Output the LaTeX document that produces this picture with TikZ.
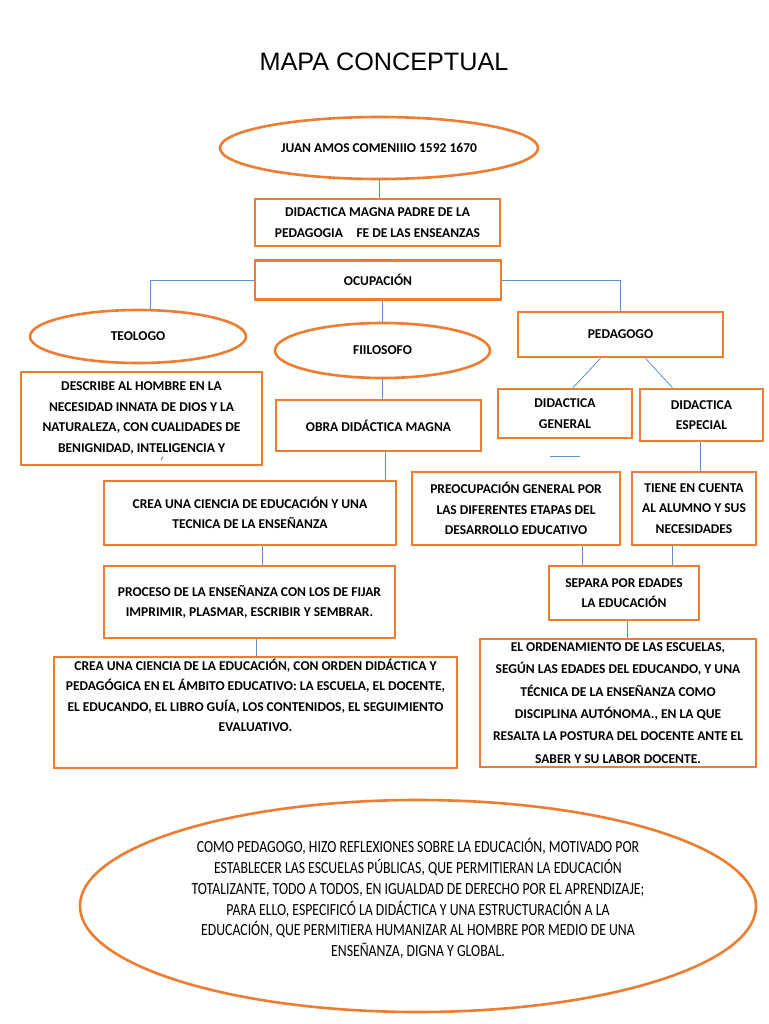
\documentclass[tikz,border=0pt]{standalone}
\usepackage{fontspec}
\usepackage{graphicx}
\usetikzlibrary{shapes.geometric}
\setmainfont{Carlito}
\newfontfamily\titlefont{Liberation Sans}
\definecolor{orng}{HTML}{ED7D31}
\definecolor{lblue}{HTML}{5B8FD0}
\newcommand{\bfnt}{\fontsize{13.5}{20.5}\selectfont\bfseries}
\begin{document}
\begin{tikzpicture}[x=1pt,y=-1pt,
  cbox/.style={draw=orng, line width=2.6pt, fill=white, inner sep=0pt, align=center, font=\bfnt},
  oval/.style={ellipse, draw=orng, line width=2.6pt, fill=white, inner sep=0pt, align=center, font=\bfnt},
  link/.style={draw=lblue, line width=0.8pt}]
\useasboundingbox[fill=white] (0,0) rectangle (768,1024);
\node[font=\titlefont\fontsize{25.2}{28}\selectfont] (title) at (384,62) {MAPA CONCEPTUAL};

\node[oval, minimum width=318pt, minimum height=62pt] (juan) at (379,148) {JUAN AMOS COMENIIIO 1592 1670};
\node[cbox, minimum width=245pt, minimum height=47pt] (dm) at (377.5,222.5) {DIDACTICA MAGNA PADRE DE LA\\PEDAGOGIA\quad FE DE LAS ENSEANZAS};
\node[cbox, minimum width=246pt, minimum height=39pt] (ocup) at (378,280) {OCUPACIÓN};
\node[oval, minimum width=216pt, minimum height=53pt] (teo) at (138,336.5) {TEOLOGO};
\node[cbox, minimum width=241pt, minimum height=93pt] (desc) at (141.5,418.5) {\parbox[c][93pt][t]{236pt}{\centering\vspace{10pt}DESCRIBE AL HOMBRE EN LA\\NECESIDAD INNATA DE DIOS Y LA\\NATURALEZA, CON CUALIDADES DE\\BENIGNIDAD, INTELIGENCIA Y}};
\draw[line width=0.6pt, black!70] (161,460) -- (163,456.5);
\node[oval, minimum width=215pt, minimum height=55pt] (fil) at (382.5,350.5) {FIILOSOFO};
\node[cbox, minimum width=205pt, minimum height=51pt] (obra) at (378.5,425.5) {OBRA DIDÁCTICA MAGNA};
\node[cbox, minimum width=292pt, minimum height=64pt] (crea) at (250,513) {CREA UNA CIENCIA DE EDUCACIÓN Y UNA\\TECNICA DE LA ENSEÑANZA};
\node[cbox, minimum width=291pt, minimum height=72pt] (proc) at (249.5,602) {PROCESO DE LA ENSEÑANZA CON LOS DE FIJAR\\IMPRIMIR, PLASMAR, ESCRIBIR Y SEMBRAR.};
\node[cbox, minimum width=403pt, minimum height=111pt] (crea2) at (255.5,712.5) {\parbox[c][111pt][t]{398pt}{\centering\vspace{2pt}CREA UNA CIENCIA DE LA EDUCACIÓN, CON ORDEN DIDÁCTICA Y\\PEDAGÓGICA EN EL ÁMBITO EDUCATIVO: LA ESCUELA, EL DOCENTE,\\EL EDUCANDO, EL LIBRO GUÍA, LOS CONTENIDOS, EL SEGUIMIENTO\\EVALUATIVO.}};
\node[cbox, minimum width=205pt, minimum height=45pt] (ped) at (620.5,334.5) {PEDAGOGO};
\node[cbox, minimum width=134pt, minimum height=49pt] (dg) at (565,413.5) {DIDACTICA\\GENERAL};
\node[cbox, minimum width=123pt, minimum height=52pt] (de) at (701.5,415) {DIDACTICA\\ESPECIAL};
\node[cbox, minimum width=208pt, minimum height=73pt] (preo) at (516,508.5) {PREOCUPACIÓN GENERAL POR\\LAS DIFERENTES ETAPAS DEL\\DESARROLLO EDUCATIVO};
\node[cbox, minimum width=124pt, minimum height=73pt] (tiene) at (694,508.5) {TIENE EN CUENTA\\AL ALUMNO Y SUS\\NECESIDADES};
\node[cbox, minimum width=150pt, minimum height=54pt] (sep) at (624,593) {SEPARA POR EDADES\\LA EDUCACIÓN};
\node[cbox, minimum width=276pt, minimum height=128pt, font=\fontsize{13.5}{22.4}\selectfont\bfseries] (orden) at (618,703) {EL ORDENAMIENTO DE LAS ESCUELAS,\\SEGÚN LAS EDADES DEL EDUCANDO, Y UNA\\TÉCNICA DE LA ENSEÑANZA COMO\\DISCIPLINA AUTÓNOMA., EN LA QUE\\RESALTA LA POSTURA DEL DOCENTE ANTE EL\\SABER Y SU LABOR DOCENTE.};
\node[oval, minimum width=676pt, minimum height=212pt, font=\mdseries] (big) at (418,906) {\makebox[380pt]{\scalebox{0.81}[1]{\parbox{600pt}{\centering\fontsize{17}{20.8}\selectfont\mdseries COMO PEDAGOGO, HIZO REFLEXIONES SOBRE LA EDUCACIÓN, MOTIVADO POR\\ESTABLECER LAS ESCUELAS PÚBLICAS, QUE PERMITIERAN LA EDUCACIÓN\\TOTALIZANTE, TODO A TODOS, EN IGUALDAD DE DERECHO POR EL APRENDIZAJE;\\PARA ELLO, ESPECIFICÓ LA DIDÁCTICA Y UNA ESTRUCTURACIÓN A LA\\EDUCACIÓN, QUE PERMITIERA HUMANIZAR AL HOMBRE POR MEDIO DE UNA\\ENSEÑANZA, DIGNA Y GLOBAL.\\[-4pt]\mbox{}}}}};

% connectors
\draw[link] (juan.south) -- (juan.south |- dm.north);
\draw[link] ([xshift=-18pt]ocup.north) -- ([xshift=16pt]ocup.north);
\draw[link] (ocup.west) -| ([xshift=12pt]teo.north);
\draw[link] (ocup.east) -| (ped.north);
\draw[link] (fil.north |- ocup.south) -- (fil.north);
\draw[link] (fil.south) -- (fil.south |- obra.north);
\draw[link] ([xshift=6.5pt]obra.south) -- ([xshift=6.5pt]obra.south |- crea.north);
\draw[link] ([xshift=12pt]crea.south) -- ([xshift=12pt]crea.south |- proc.north);
\draw[link] ([xshift=7pt]proc.south) -- ([xshift=7pt]proc.south |- crea2.north);
\draw[link] ([xshift=-20pt]ped.south) -- ([xshift=8pt]dg.north);
\draw[link] ([xshift=25pt]ped.south) -- ([xshift=-29pt]de.north);
\coordinate (s1) at (550,456);
\coordinate (s2) at (580,456);
\draw[link] (s1) -- (s2);
\draw[link] ([xshift=-1pt]de.south) -- ([xshift=-1pt]de.south |- tiene.north);
\draw[link] ([xshift=-42pt]sep.north |- preo.south) -- ([xshift=-42pt]sep.north);
\draw[link] ([xshift=48pt]sep.north |- tiene.south) -- ([xshift=48pt]sep.north);
\draw[link] ([xshift=3pt]sep.south) -- ([xshift=3pt]sep.south |- orden.north);
\end{tikzpicture}
\end{document}
